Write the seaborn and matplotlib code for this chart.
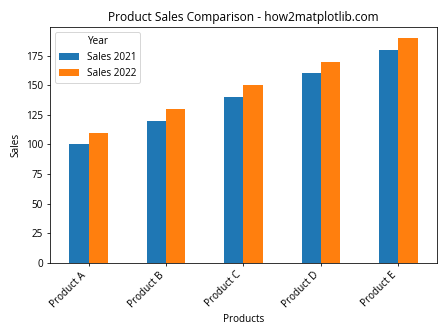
import matplotlib
matplotlib.use("Agg")
import matplotlib.pyplot as plt
import seaborn as sns
import pandas as pd

products = ["Product A", "Product B", "Product C", "Product D", "Product E"]
sales_2021 = [100, 120, 140, 160, 180]
sales_2022 = [110, 130, 150, 170, 190]
series_names = ["Sales 2021", "Sales 2022"]

plt.rcParams['font.family'] = ['Open Sans', 'DejaVu Sans']
plt.rcParams['font.size'] = 10.3

df = pd.DataFrame({
    "Products": products * 2,
    "Sales": sales_2021 + sales_2022,
    "Year": [series_names[0]] * 5 + [series_names[1]] * 5,
})

fig, ax = plt.subplots(figsize=(6.4, 4.8), dpi=70)
sns.barplot(data=df, x="Products", y="Sales", hue="Year", ax=ax,
            palette=["#1f77b4", "#ff7f0e"], width=0.5, gap=0,
            saturation=1, errorbar=None)
ax.set_ylim(0, 199.5)
ax.set_xlim(-0.5, 4.5)
ax.set_title("Product Sales Comparison - how2matplotlib.com")
ax.set_xlabel("Products")
ax.set_ylabel("Sales")
plt.setp(ax.get_xticklabels(), rotation=45, ha="right")
ax.legend(title="Year", loc="upper left")
fig.tight_layout()
fig.savefig("out.png", dpi=70)
